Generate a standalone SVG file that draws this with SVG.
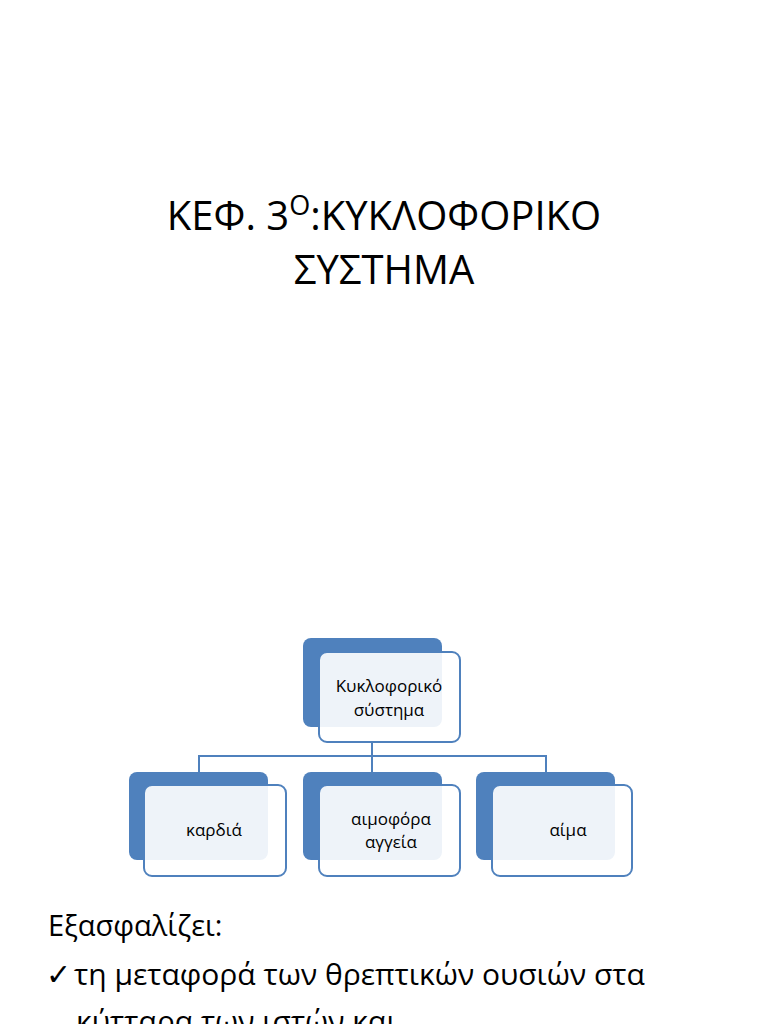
<svg xmlns="http://www.w3.org/2000/svg" width="768" height="1024" viewBox="0 0 768 1024">
<style>
.t{font-family:"Open Sans","Liberation Sans",sans-serif;fill:#000}
.back{fill:#4f81bd}
.front{fill:#ffffff;fill-opacity:0.9;stroke:#4f81bd;stroke-width:2}
.lbl{font-family:"Open Sans","Liberation Sans",sans-serif;font-size:17px;text-anchor:middle;fill:#000}
.c{fill:none;stroke:#4f81bd;stroke-width:2}
</style>
<rect width="768" height="1024" fill="#fff"/>
<text class="t" x="384" y="230" font-size="40" text-anchor="middle">ΚΕΦ. 3<tspan font-size="27" dy="-15">Ο</tspan><tspan dy="15">:ΚΥΚΛΟΦΟΡΙΚΟ</tspan></text>
<text class="t" x="384" y="284" font-size="40" text-anchor="middle">ΣΥΣΤΗΜΑ</text>
<g id="connectors">
<path class="c" d="M372 742V756M199 772V756H546V772M372 756V772"/>
</g>
<g id="n0"><rect class="back" x="303" y="638" width="139" height="89" rx="8"/><rect class="front" x="319" y="652" width="141" height="90" rx="8"/><text class="lbl" x="389" y="692">Κυκλοφορικό</text><text class="lbl" x="389" y="716">σύστημα</text></g>
<g id="n1"><rect class="back" x="129" y="772" width="139" height="88" rx="8"/><rect class="front" x="144" y="785" width="142" height="91" rx="8"/><text class="lbl" x="214" y="836">καρδιά</text></g>
<g id="n2"><rect class="back" x="303" y="772" width="139" height="88" rx="8"/><rect class="front" x="319" y="785" width="141" height="91" rx="8"/><text class="lbl" x="391" y="825">αιμοφόρα</text><text class="lbl" x="391" y="848">αγγεία</text></g>
<g id="n3"><rect class="back" x="476" y="772" width="139" height="88" rx="8"/><rect class="front" x="492" y="785" width="140" height="91" rx="8"/><text class="lbl" x="568" y="836">αίμα</text></g>
<text class="t" x="48" y="936" font-size="29">Εξασφαλίζει:</text>
<text class="t" x="46" y="985" font-size="30">✓</text>
<text class="t" x="74" y="985" font-size="30">τη μεταφορά των θρεπτικών ουσιών στα</text>
<text class="t" x="76" y="1032" font-size="30">κύτταρα των ιστών και</text>
</svg>
